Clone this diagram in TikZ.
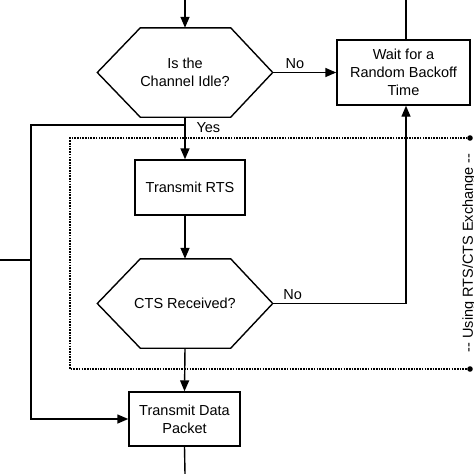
\documentclass[tikz,border=0pt]{standalone}
\usepackage{fontspec}
\setmainfont{Liberation Sans}
\usetikzlibrary{arrows.meta}

\begin{document}
\begin{tikzpicture}[x=1pt,y=-1pt,
        every node/.style={font=\fontsize{14.5}{18}\selectfont,align=center},
        stepbox/.style={rectangle,draw,line width=1.4pt,inner sep=0pt},
        decision/.style={rectangle,minimum width=175pt,minimum height=89pt,inner sep=0pt},
        flow/.style={line width=1.4pt},
        arr/.style={flow,-{Triangle[length=11pt,width=9pt]}},
        frame/.style={line width=2pt,dash pattern=on 1.6pt off 1.1pt}]
        \useasboundingbox (0,0) rectangle (474,474);
        \clip (0,0) rectangle (474,474);

        \node [decision] (idle) at (185, 72.5) {Is the\\Channel Idle?};
        \node [stepbox,minimum width=133pt,minimum height=65pt] (backoff) at (403.5, 72.5) {Wait for a\\Random Backoff\\Time};
        \node [stepbox,minimum width=110pt,minimum height=55pt] (rts) at (190, 187.5) {Transmit RTS};
        \node [decision] (cts) at (185, 303.5) {CTS Received?};
        \node [stepbox,minimum width=111pt,minimum height=54pt] (data) at (184.5, 419) {Transmit Data\\Packet};

        % hexagon outlines of the two decisions
        \foreach \d in {idle,cts}
            \draw[flow,line join=miter] (\d.west) -- ([xshift=43pt]\d.north west) -- ([xshift=-42pt]\d.north east)
                -- (\d.east) -- ([xshift=-42pt]\d.south east) -- ([xshift=43pt]\d.south west) -- cycle;

        \coordinate (in) at (185, 0);
        \coordinate (up) at (406, 0);
        \coordinate (out) at (185, 474);
        \coordinate (split) at (185, 125);
        \coordinate (side) at (31, 125);
        \coordinate (left) at (0, 260);
        \coordinate (ftl) at (70, 138);
        \coordinate (ftr) at (470, 138);
        \coordinate (fbl) at (70, 369);
        \coordinate (fbr) at (470, 369);

        \draw[frame] (ftr) -- (ftl) -- (fbl) -- (fbr);
        \fill (ftr) circle (2.8);
        \fill (fbr) circle (2.8);
        \node [rotate=90] (rtslabel) at (469, 253) {-{}- Using RTS/CTS  Exchange -{}-};

        \draw[arr] (in) to (idle.north);
        \draw[flow] (backoff.north -| up) to (up);
        \draw[arr] (idle.east) to node[above,pos=0.35] (no1) {No} (backoff.west);
        \draw[arr] (idle.south) to (idle.south |- rts.north);
        \node [anchor=west] (yes) at (193, 128) {Yes};
        \draw[arr] (idle.south |- rts.south) to (cts.north);
        \draw[arr] (cts.east) -- node[above,pos=0.15] (no2) {No} (cts.east -| up) -- (backoff.south -| up);
        \draw[arr] (cts.south) to (data.north);
        \draw[flow] (data.south) to (out);
        \draw[arr] (split) -- (side) |- (data.west);
        \draw[flow] (left) -- (left -| side);
\end{tikzpicture}
\end{document}
